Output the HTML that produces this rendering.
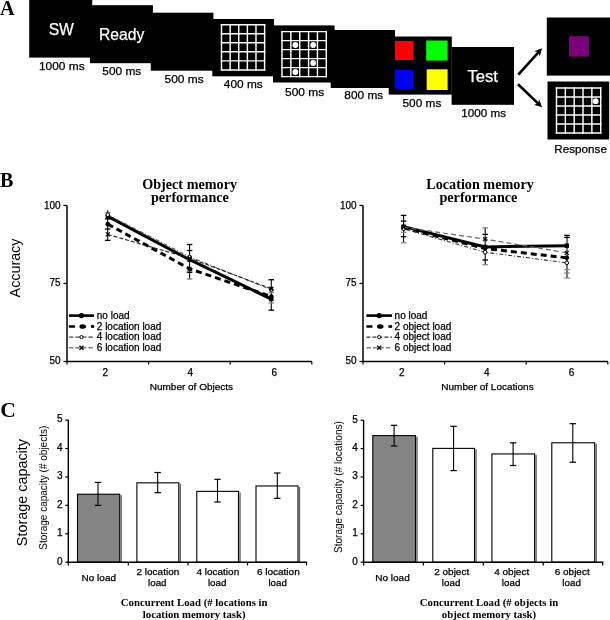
<!DOCTYPE html>
<html><head><meta charset="utf-8"><title>Figure</title>
<style>
html,body{margin:0;padding:0;background:#fff;}
svg{display:block;}
.S{font-family:"Liberation Sans", Arial, Helvetica, sans-serif;}
.R{font-family:"Liberation Serif", "Times New Roman", serif;}
</style></head><body>
<svg width="610" height="620" viewBox="0 0 610 620">
<rect x="0" y="0" width="610" height="620" fill="#fff"/>
<text class="R" x="0" y="14.6" font-size="20.3" font-weight="bold" fill="#000">A</text>
<rect x="29.2" y="0" width="63.0" height="57.6" fill="#000"/>
<rect x="90" y="5.2" width="62.9" height="58.0" fill="#000"/>
<rect x="150.8" y="12.7" width="62.6" height="58.0" fill="#000"/>
<rect x="212.3" y="19" width="61.7" height="57.3" fill="#000"/>
<rect x="273" y="25.4" width="61.6" height="57.1" fill="#000"/>
<rect x="330.7" y="30" width="64.3" height="58" fill="#000"/>
<rect x="388.7" y="36.5" width="63.1" height="58.1" fill="#000"/>
<rect x="451.6" y="47" width="62.4" height="57.8" fill="#000"/>
<text class="S" x="48.7" y="34.5" font-size="16.2" textLength="25.2" lengthAdjust="spacingAndGlyphs" fill="#fff" stroke="#fff" stroke-width="0.25">SW</text>
<text class="S" x="99.0" y="39.7" font-size="16.4" textLength="45.3" lengthAdjust="spacingAndGlyphs" fill="#fff" stroke="#fff" stroke-width="0.25">Ready</text>
<text class="S" x="467.4" y="81.7" font-size="16.3" textLength="30.6" lengthAdjust="spacingAndGlyphs" fill="#fff" stroke="#fff" stroke-width="0.25">Test</text>
<line x1="221.5" y1="24.7" x2="221.5" y2="69.9" stroke="#fff" stroke-width="1.45" stroke-linecap="square"/>
<line x1="221.5" y1="24.7" x2="264.6" y2="24.7" stroke="#fff" stroke-width="1.45" stroke-linecap="square"/>
<line x1="230.12" y1="24.7" x2="230.12" y2="69.9" stroke="#fff" stroke-width="1.45" stroke-linecap="square"/>
<line x1="221.5" y1="33.74" x2="264.6" y2="33.74" stroke="#fff" stroke-width="1.45" stroke-linecap="square"/>
<line x1="238.74" y1="24.7" x2="238.74" y2="69.9" stroke="#fff" stroke-width="1.45" stroke-linecap="square"/>
<line x1="221.5" y1="42.78" x2="264.6" y2="42.78" stroke="#fff" stroke-width="1.45" stroke-linecap="square"/>
<line x1="247.36" y1="24.7" x2="247.36" y2="69.9" stroke="#fff" stroke-width="1.45" stroke-linecap="square"/>
<line x1="221.5" y1="51.82" x2="264.6" y2="51.82" stroke="#fff" stroke-width="1.45" stroke-linecap="square"/>
<line x1="255.98" y1="24.7" x2="255.98" y2="69.9" stroke="#fff" stroke-width="1.45" stroke-linecap="square"/>
<line x1="221.5" y1="60.86" x2="264.6" y2="60.86" stroke="#fff" stroke-width="1.45" stroke-linecap="square"/>
<line x1="264.6" y1="24.7" x2="264.6" y2="69.9" stroke="#fff" stroke-width="1.45" stroke-linecap="square"/>
<line x1="221.5" y1="69.9" x2="264.6" y2="69.9" stroke="#fff" stroke-width="1.45" stroke-linecap="square"/>
<line x1="282.0" y1="31.6" x2="282.0" y2="76.6" stroke="#fff" stroke-width="1.45" stroke-linecap="square"/>
<line x1="282" y1="31.6" x2="326.3" y2="31.6" stroke="#fff" stroke-width="1.45" stroke-linecap="square"/>
<line x1="290.86" y1="31.6" x2="290.86" y2="76.6" stroke="#fff" stroke-width="1.45" stroke-linecap="square"/>
<line x1="282" y1="40.6" x2="326.3" y2="40.6" stroke="#fff" stroke-width="1.45" stroke-linecap="square"/>
<line x1="299.72" y1="31.6" x2="299.72" y2="76.6" stroke="#fff" stroke-width="1.45" stroke-linecap="square"/>
<line x1="282" y1="49.6" x2="326.3" y2="49.6" stroke="#fff" stroke-width="1.45" stroke-linecap="square"/>
<line x1="308.58" y1="31.6" x2="308.58" y2="76.6" stroke="#fff" stroke-width="1.45" stroke-linecap="square"/>
<line x1="282" y1="58.6" x2="326.3" y2="58.6" stroke="#fff" stroke-width="1.45" stroke-linecap="square"/>
<line x1="317.44" y1="31.6" x2="317.44" y2="76.6" stroke="#fff" stroke-width="1.45" stroke-linecap="square"/>
<line x1="282" y1="67.6" x2="326.3" y2="67.6" stroke="#fff" stroke-width="1.45" stroke-linecap="square"/>
<line x1="326.3" y1="31.6" x2="326.3" y2="76.6" stroke="#fff" stroke-width="1.45" stroke-linecap="square"/>
<line x1="282" y1="76.6" x2="326.3" y2="76.6" stroke="#fff" stroke-width="1.45" stroke-linecap="square"/>
<circle cx="295.35" cy="45.00" r="2.9" fill="#fff"/>
<circle cx="313.15" cy="45.00" r="2.9" fill="#fff"/>
<circle cx="313.15" cy="63.00" r="2.9" fill="#fff"/>
<circle cx="295.35" cy="72.00" r="2.9" fill="#fff"/>
<rect x="394.8" y="40.9" width="18.6" height="19.1" fill="#ff0000"/>
<rect x="426.2" y="40.5" width="21.4" height="20.1" fill="#00ff00"/>
<rect x="394.8" y="69.9" width="18.6" height="18.9" fill="#0000ff"/>
<rect x="426.7" y="69.3" width="20.9" height="20.7" fill="#ffff00"/>
<text class="S" x="39.0" y="70.0" font-size="11" textLength="45.6" lengthAdjust="spacingAndGlyphs" fill="#000" stroke="#000" stroke-width="0.25">1000 ms</text>
<text class="S" x="102.3" y="74.7" font-size="11" textLength="38.9" lengthAdjust="spacingAndGlyphs" fill="#000" stroke="#000" stroke-width="0.25">500 ms</text>
<text class="S" x="164.5" y="83.3" font-size="11" textLength="39.2" lengthAdjust="spacingAndGlyphs" fill="#000" stroke="#000" stroke-width="0.25">500 ms</text>
<text class="S" x="223.8" y="88.1" font-size="11" textLength="38.9" lengthAdjust="spacingAndGlyphs" fill="#000" stroke="#000" stroke-width="0.25">400 ms</text>
<text class="S" x="285.0" y="95.5" font-size="11" textLength="39.2" lengthAdjust="spacingAndGlyphs" fill="#000" stroke="#000" stroke-width="0.25">500 ms</text>
<text class="S" x="344.3" y="99.0" font-size="11" textLength="38.9" lengthAdjust="spacingAndGlyphs" fill="#000" stroke="#000" stroke-width="0.25">800 ms</text>
<text class="S" x="402.5" y="106.6" font-size="11" textLength="38.8" lengthAdjust="spacingAndGlyphs" fill="#000" stroke="#000" stroke-width="0.25">500 ms</text>
<text class="S" x="461.3" y="116.7" font-size="11" textLength="44.7" lengthAdjust="spacingAndGlyphs" fill="#000" stroke="#000" stroke-width="0.25">1000 ms</text>
<line x1="518.3" y1="74.6" x2="539.99" y2="50.53" stroke="#000" stroke-width="2.6"/>
<polygon points="542.0,48.3 539.8,56.4 538.5,52.2 534.2,51.3" fill="#000"/>
<line x1="518.0" y1="84.2" x2="539.83" y2="105.12" stroke="#000" stroke-width="2.6"/>
<polygon points="542.0,107.2 534.0,104.8 538.2,103.6 539.2,99.3" fill="#000"/>
<rect x="546.8" y="17.5" width="63.2" height="58.1" fill="#000"/>
<rect x="569" y="36.2" width="19.8" height="20.4" fill="#7a0079"/>
<circle cx="579.5" cy="49.5" r="0.6" fill="#ff0000"/>
<circle cx="583.5" cy="49.5" r="0.6" fill="#ff0000"/>
<circle cx="576.5" cy="53.5" r="0.6" fill="#ff0000"/>
<rect x="547.5" y="81.5" width="61.7" height="58" fill="#000"/>
<line x1="556.5" y1="88" x2="556.5" y2="133" stroke="#fff" stroke-width="1.45" stroke-linecap="square"/>
<line x1="556.5" y1="88.0" x2="600.7" y2="88.0" stroke="#fff" stroke-width="1.45" stroke-linecap="square"/>
<line x1="565.34" y1="88" x2="565.34" y2="133" stroke="#fff" stroke-width="1.45" stroke-linecap="square"/>
<line x1="556.5" y1="97.0" x2="600.7" y2="97.0" stroke="#fff" stroke-width="1.45" stroke-linecap="square"/>
<line x1="574.18" y1="88" x2="574.18" y2="133" stroke="#fff" stroke-width="1.45" stroke-linecap="square"/>
<line x1="556.5" y1="106.0" x2="600.7" y2="106.0" stroke="#fff" stroke-width="1.45" stroke-linecap="square"/>
<line x1="583.02" y1="88" x2="583.02" y2="133" stroke="#fff" stroke-width="1.45" stroke-linecap="square"/>
<line x1="556.5" y1="115.0" x2="600.7" y2="115.0" stroke="#fff" stroke-width="1.45" stroke-linecap="square"/>
<line x1="591.86" y1="88" x2="591.86" y2="133" stroke="#fff" stroke-width="1.45" stroke-linecap="square"/>
<line x1="556.5" y1="124.0" x2="600.7" y2="124.0" stroke="#fff" stroke-width="1.45" stroke-linecap="square"/>
<line x1="600.7" y1="88" x2="600.7" y2="133" stroke="#fff" stroke-width="1.45" stroke-linecap="square"/>
<line x1="556.5" y1="133.0" x2="600.7" y2="133.0" stroke="#fff" stroke-width="1.45" stroke-linecap="square"/>
<circle cx="595.68" cy="101.20" r="2.9" fill="#fff"/>
<text class="S" x="554.3" y="152.7" font-size="11" textLength="52.6" lengthAdjust="spacingAndGlyphs" fill="#000" stroke="#000" stroke-width="0.25">Response</text>
<text class="R" x="0" y="186.8" font-size="20" font-weight="bold" fill="#000">B</text>
<text class="R" x="189.6" y="188.5" font-size="14.2" font-weight="bold" text-anchor="middle" fill="#000">Object memory</text>
<text class="R" x="189.9" y="201.8" font-size="14.2" font-weight="bold" text-anchor="middle" fill="#000">performance</text>
<line x1="67" y1="205.4" x2="67" y2="362.2" stroke="#000" stroke-width="1.5"/>
<line x1="66.3" y1="361.5" x2="311.79999999999995" y2="361.5" stroke="#000" stroke-width="1.5"/>
<line x1="63.4" y1="205.4" x2="67" y2="205.4" stroke="#000" stroke-width="1.2"/>
<line x1="63.4" y1="283.45" x2="67" y2="283.45" stroke="#000" stroke-width="1.2"/>
<line x1="63.4" y1="361.5" x2="67" y2="361.5" stroke="#000" stroke-width="1.2"/>
<line x1="67.0" y1="361.5" x2="67.0" y2="364.6" stroke="#000" stroke-width="1.2"/>
<line x1="148.6" y1="361.5" x2="148.6" y2="364.6" stroke="#000" stroke-width="1.2"/>
<line x1="230.2" y1="361.5" x2="230.2" y2="364.6" stroke="#000" stroke-width="1.2"/>
<line x1="311.8" y1="361.5" x2="311.8" y2="364.6" stroke="#000" stroke-width="1.2"/>
<text class="S" x="60.7" y="208.5" font-size="10" text-anchor="end" fill="#000" stroke="#000" stroke-width="0.25">100</text>
<text class="S" x="60.7" y="286.0" font-size="10" text-anchor="end" fill="#000" stroke="#000" stroke-width="0.25">75</text>
<text class="S" x="60.7" y="364.1" font-size="10" text-anchor="end" fill="#000" stroke="#000" stroke-width="0.25">50</text>
<text class="S" x="105.2" y="376.0" font-size="10" text-anchor="middle" fill="#000" stroke="#000" stroke-width="0.25">2</text>
<text class="S" x="190.2" y="376.0" font-size="10" text-anchor="middle" fill="#000" stroke="#000" stroke-width="0.25">4</text>
<text class="S" x="274.3" y="376.0" font-size="10" text-anchor="middle" fill="#000" stroke="#000" stroke-width="0.25">6</text>
<text class="S" x="149.8" y="390.4" font-size="9.8" textLength="83.2" lengthAdjust="spacingAndGlyphs" fill="#000" stroke="#000" stroke-width="0.25">Number of Objects</text>
<line x1="107.7" y1="210.2" x2="107.7" y2="240.4" stroke="#000" stroke-width="1.1"/>
<line x1="104.9" y1="212.7" x2="110.5" y2="212.7" stroke="#888" stroke-width="1.3"/>
<line x1="104.9" y1="218.9" x2="110.5" y2="218.9" stroke="#000" stroke-width="1.3"/>
<line x1="104.9" y1="229" x2="110.5" y2="229" stroke="#000" stroke-width="1.3"/>
<line x1="104.9" y1="240.4" x2="110.5" y2="240.4" stroke="#000" stroke-width="1.3"/>
<line x1="189.6" y1="244.5" x2="189.6" y2="279.1" stroke="#000" stroke-width="1.1"/>
<line x1="186.79999999999998" y1="244.5" x2="192.4" y2="244.5" stroke="#000" stroke-width="1.3"/>
<line x1="186.79999999999998" y1="250.5" x2="192.4" y2="250.5" stroke="#000" stroke-width="1.3"/>
<line x1="186.79999999999998" y1="270.9" x2="192.4" y2="270.9" stroke="#888" stroke-width="1.3"/>
<line x1="186.79999999999998" y1="272.3" x2="192.4" y2="272.3" stroke="#000" stroke-width="1.3"/>
<line x1="186.79999999999998" y1="279.1" x2="192.4" y2="279.1" stroke="#888" stroke-width="1.3"/>
<line x1="271.3" y1="279.7" x2="271.3" y2="310.2" stroke="#000" stroke-width="1.1"/>
<line x1="268.5" y1="279.7" x2="274.1" y2="279.7" stroke="#000" stroke-width="1.3"/>
<line x1="268.5" y1="292.5" x2="274.1" y2="292.5" stroke="#888" stroke-width="1.3"/>
<line x1="268.5" y1="303" x2="274.1" y2="303" stroke="#888" stroke-width="1.3"/>
<line x1="268.5" y1="310.2" x2="274.1" y2="310.2" stroke="#000" stroke-width="1.3"/>
<polyline points="107.8,216.33 189.6,259.72 271.3,299.06" fill="none" stroke="#000" stroke-width="3" stroke-dasharray="none" stroke-linejoin="round"/>
<rect x="105.6" y="214.13" width="4.4" height="4.4" fill="#000"/>
<rect x="187.4" y="257.52" width="4.4" height="4.4" fill="#000"/>
<rect x="269.1" y="296.86" width="4.4" height="4.4" fill="#000"/>
<polyline points="107.8,224.13 189.6,268.78 271.3,296.56" fill="none" stroke="#000" stroke-width="3" stroke-dasharray="6,4" stroke-linejoin="round"/>
<circle cx="107.8" cy="224.13" r="2.3" fill="#000"/>
<circle cx="189.6" cy="268.78" r="2.3" fill="#000"/>
<circle cx="271.3" cy="296.56" r="2.3" fill="#000"/>
<polyline points="107.8,214.77 189.6,256.91 271.3,289.69" fill="none" stroke="#555" stroke-width="1.1" stroke-dasharray="4,2,1,2" stroke-linejoin="round"/>
<circle cx="107.8" cy="214.77" r="1.8" fill="#fff" stroke="#000" stroke-width="1"/>
<circle cx="189.6" cy="256.91" r="1.8" fill="#fff" stroke="#000" stroke-width="1"/>
<circle cx="271.3" cy="289.69" r="1.8" fill="#fff" stroke="#000" stroke-width="1"/>
<polyline points="107.8,234.43 189.6,258.16 271.3,288.76" fill="none" stroke="#222" stroke-width="1.1" stroke-dasharray="4,2" stroke-linejoin="round"/>
<path d="M105.8,232.43L109.8,236.43M105.8,236.43L109.8,232.43" stroke="#000" stroke-width="1.2" fill="none"/>
<path d="M187.6,256.16L191.6,260.16M187.6,260.16L191.6,256.16" stroke="#000" stroke-width="1.2" fill="none"/>
<path d="M269.3,286.76L273.3,290.76M269.3,290.76L273.3,286.76" stroke="#000" stroke-width="1.2" fill="none"/>
<line x1="68.9" y1="315.6" x2="94" y2="315.6" stroke="#000" stroke-width="2.6" stroke-dasharray="none"/>
<circle cx="81.5" cy="315.6" r="2.7" fill="#000"/>
<text class="S" x="96.8" y="318.8" font-size="10" fill="#000" stroke="#000" stroke-width="0.25">no load</text>
<line x1="68.9" y1="326.5" x2="94" y2="326.5" stroke="#000" stroke-width="2.6" stroke-dasharray="6,5"/>
<ellipse cx="82.5" cy="326.5" rx="3" ry="2.3" fill="#000"/>
<circle cx="93" cy="326.5" r="1.2" fill="#000"/>
<text class="S" x="96.8" y="329.7" font-size="10" fill="#000" stroke="#000" stroke-width="0.25">2 location load</text>
<line x1="68.9" y1="337.1" x2="94" y2="337.1" stroke="#808080" stroke-width="1.6" stroke-dasharray="4.5,2"/>
<circle cx="81.5" cy="337.1" r="1.6" fill="#fff" stroke="#000" stroke-width="1"/>
<text class="S" x="96.8" y="340.3" font-size="10" fill="#000" stroke="#000" stroke-width="0.25">4 location load</text>
<line x1="68.9" y1="347.8" x2="94" y2="347.8" stroke="#808080" stroke-width="1.6" stroke-dasharray="4.5,2"/>
<path d="M79.5,345.8L83.5,349.8M79.5,349.8L83.5,345.8" stroke="#000" stroke-width="1.3" fill="none"/>
<text class="S" x="96.8" y="351.0" font-size="10" fill="#000" stroke="#000" stroke-width="0.25">6 location load</text>
<text class="R" x="480.0" y="188.5" font-size="14.2" font-weight="bold" text-anchor="middle" fill="#000">Location memory</text>
<text class="R" x="478.4" y="201.8" font-size="14.2" font-weight="bold" text-anchor="middle" fill="#000">performance</text>
<line x1="363" y1="205.4" x2="363" y2="362.2" stroke="#000" stroke-width="1.5"/>
<line x1="362.3" y1="361.5" x2="607.8" y2="361.5" stroke="#000" stroke-width="1.5"/>
<line x1="359.4" y1="205.4" x2="363" y2="205.4" stroke="#000" stroke-width="1.2"/>
<line x1="359.4" y1="283.45" x2="363" y2="283.45" stroke="#000" stroke-width="1.2"/>
<line x1="359.4" y1="361.5" x2="363" y2="361.5" stroke="#000" stroke-width="1.2"/>
<line x1="363.0" y1="361.5" x2="363.0" y2="364.6" stroke="#000" stroke-width="1.2"/>
<line x1="444.6" y1="361.5" x2="444.6" y2="364.6" stroke="#000" stroke-width="1.2"/>
<line x1="526.2" y1="361.5" x2="526.2" y2="364.6" stroke="#000" stroke-width="1.2"/>
<line x1="607.8" y1="361.5" x2="607.8" y2="364.6" stroke="#000" stroke-width="1.2"/>
<text class="S" x="356.7" y="208.5" font-size="10" text-anchor="end" fill="#000" stroke="#000" stroke-width="0.25">100</text>
<text class="S" x="356.7" y="286.0" font-size="10" text-anchor="end" fill="#000" stroke="#000" stroke-width="0.25">75</text>
<text class="S" x="356.7" y="364.1" font-size="10" text-anchor="end" fill="#000" stroke="#000" stroke-width="0.25">50</text>
<text class="S" x="401.9" y="376.0" font-size="10" text-anchor="middle" fill="#000" stroke="#000" stroke-width="0.25">2</text>
<text class="S" x="486.7" y="376.0" font-size="10" text-anchor="middle" fill="#000" stroke="#000" stroke-width="0.25">4</text>
<text class="S" x="571.6" y="376.0" font-size="10" text-anchor="middle" fill="#000" stroke="#000" stroke-width="0.25">6</text>
<text class="S" x="441.3" y="390.4" font-size="9.8" textLength="92.4" lengthAdjust="spacingAndGlyphs" fill="#000" stroke="#000" stroke-width="0.25">Number of Locations</text>
<line x1="403.6" y1="215.4" x2="403.6" y2="242.8" stroke="#000" stroke-width="1.1"/>
<line x1="400.8" y1="215.4" x2="406.40000000000003" y2="215.4" stroke="#000" stroke-width="1.3"/>
<line x1="400.8" y1="221.1" x2="406.40000000000003" y2="221.1" stroke="#000" stroke-width="1.3"/>
<line x1="400.8" y1="232.3" x2="406.40000000000003" y2="232.3" stroke="#888" stroke-width="1.3"/>
<line x1="400.8" y1="236.7" x2="406.40000000000003" y2="236.7" stroke="#000" stroke-width="1.3"/>
<line x1="400.8" y1="242.8" x2="406.40000000000003" y2="242.8" stroke="#888" stroke-width="1.3"/>
<line x1="485.2" y1="227.8" x2="485.2" y2="264.7" stroke="#000" stroke-width="1.1"/>
<line x1="482.4" y1="227.8" x2="488.0" y2="227.8" stroke="#888" stroke-width="1.3"/>
<line x1="482.4" y1="234.4" x2="488.0" y2="234.4" stroke="#000" stroke-width="1.3"/>
<line x1="482.4" y1="260" x2="488.0" y2="260" stroke="#000" stroke-width="1.3"/>
<line x1="482.4" y1="264.7" x2="488.0" y2="264.7" stroke="#888" stroke-width="1.3"/>
<line x1="567.0" y1="235.3" x2="567.0" y2="278" stroke="#000" stroke-width="1.1"/>
<line x1="564.2" y1="235.3" x2="569.8" y2="235.3" stroke="#000" stroke-width="1.3"/>
<line x1="564.2" y1="237.4" x2="569.8" y2="237.4" stroke="#000" stroke-width="1.3"/>
<line x1="564.2" y1="269.7" x2="569.8" y2="269.7" stroke="#888" stroke-width="1.3"/>
<line x1="564.2" y1="273" x2="569.8" y2="273" stroke="#888" stroke-width="1.3"/>
<line x1="564.2" y1="278" x2="569.8" y2="278" stroke="#888" stroke-width="1.3"/>
<polyline points="403.6,226.63 485.1,246.92 566.8,245.67" fill="none" stroke="#000" stroke-width="3" stroke-dasharray="none" stroke-linejoin="round"/>
<rect x="401.4" y="224.43" width="4.4" height="4.4" fill="#000"/>
<rect x="482.9" y="244.72" width="4.4" height="4.4" fill="#000"/>
<rect x="564.6" y="243.47" width="4.4" height="4.4" fill="#000"/>
<polyline points="403.6,227.88 485.1,248.48 566.8,257.85" fill="none" stroke="#000" stroke-width="3" stroke-dasharray="6,4" stroke-linejoin="round"/>
<circle cx="403.6" cy="227.88" r="2.3" fill="#000"/>
<circle cx="485.1" cy="248.48" r="2.3" fill="#000"/>
<circle cx="566.8" cy="257.85" r="2.3" fill="#000"/>
<polyline points="403.6,228.81 485.1,252.23 566.8,262.84" fill="none" stroke="#333" stroke-width="1.1" stroke-dasharray="4,2,1,2" stroke-linejoin="round"/>
<circle cx="403.6" cy="228.81" r="1.8" fill="#fff" stroke="#000" stroke-width="1"/>
<circle cx="485.1" cy="252.23" r="1.8" fill="#fff" stroke="#000" stroke-width="1"/>
<circle cx="566.8" cy="262.84" r="1.8" fill="#fff" stroke="#000" stroke-width="1"/>
<polyline points="403.6,227.25 485.1,239.12 566.8,252.85" fill="none" stroke="#666" stroke-width="1.2" stroke-dasharray="5,3" stroke-linejoin="round"/>
<path d="M401.6,225.25L405.6,229.25M401.6,229.25L405.6,225.25" stroke="#000" stroke-width="1.2" fill="none"/>
<path d="M483.1,237.12L487.1,241.12M483.1,241.12L487.1,237.12" stroke="#000" stroke-width="1.2" fill="none"/>
<path d="M564.8,250.85L568.8,254.85M564.8,254.85L568.8,250.85" stroke="#000" stroke-width="1.2" fill="none"/>
<line x1="366.4" y1="315.6" x2="392" y2="315.6" stroke="#000" stroke-width="2.6" stroke-dasharray="none"/>
<circle cx="379.2" cy="315.6" r="2.7" fill="#000"/>
<text class="S" x="394.6" y="318.8" font-size="10" fill="#000" stroke="#000" stroke-width="0.25">no load</text>
<line x1="366.4" y1="326.5" x2="392" y2="326.5" stroke="#000" stroke-width="2.6" stroke-dasharray="6,5"/>
<ellipse cx="380.2" cy="326.5" rx="3" ry="2.3" fill="#000"/>
<circle cx="391" cy="326.5" r="1.2" fill="#000"/>
<text class="S" x="394.6" y="329.7" font-size="10" fill="#000" stroke="#000" stroke-width="0.25">2 object load</text>
<line x1="366.4" y1="337.1" x2="392" y2="337.1" stroke="#333" stroke-width="1.1" stroke-dasharray="4,2"/>
<circle cx="379.2" cy="337.1" r="1.6" fill="#fff" stroke="#000" stroke-width="1"/>
<text class="S" x="394.6" y="340.3" font-size="10" fill="#000" stroke="#000" stroke-width="0.25">4 object load</text>
<line x1="366.4" y1="347.8" x2="392" y2="347.8" stroke="#808080" stroke-width="1.6" stroke-dasharray="4.5,2"/>
<path d="M377.2,345.8L381.2,349.8M377.2,349.8L381.2,345.8" stroke="#000" stroke-width="1.3" fill="none"/>
<text class="S" x="394.6" y="351.0" font-size="10" fill="#000" stroke="#000" stroke-width="0.25">6 object load</text>
<text class="S" x="0" y="0" font-size="14.3" transform="translate(20.2,268) rotate(-90)" text-anchor="middle">Accuracy</text>
<text class="R" x="0.2" y="416.7" font-size="21.6" font-weight="bold" fill="#000">C</text>
<line x1="68.3" y1="420.1" x2="68.3" y2="562.8000000000001" stroke="#000" stroke-width="1.4"/>
<rect x="120.5" y="495.21" width="1.4" height="66.99" fill="#666"/>
<rect x="77.5" y="494.21" width="42.2" height="67.99" fill="#858585" stroke="#000" stroke-width="1.1"/>
<rect x="179.6" y="483.84" width="1.4" height="78.36" fill="#666"/>
<rect x="136.9" y="482.84" width="41.9" height="79.36" fill="#fff" stroke="#000" stroke-width="1.1"/>
<rect x="239.3" y="492.37" width="1.4" height="69.83" fill="#666"/>
<rect x="196.8" y="491.37" width="41.7" height="70.83" fill="#fff" stroke="#000" stroke-width="1.1"/>
<rect x="298.8" y="486.97" width="1.4" height="75.23" fill="#666"/>
<rect x="256.0" y="485.97" width="42.0" height="76.23" fill="#fff" stroke="#000" stroke-width="1.1"/>
<line x1="67.6" y1="562.2" x2="307.1" y2="562.2" stroke="#000" stroke-width="1.4"/>
<line x1="68.3" y1="562.2" x2="68.3" y2="565.4000000000001" stroke="#000" stroke-width="1.2"/>
<line x1="128.3" y1="562.2" x2="128.3" y2="565.4000000000001" stroke="#000" stroke-width="1.2"/>
<line x1="188" y1="562.2" x2="188" y2="565.4000000000001" stroke="#000" stroke-width="1.2"/>
<line x1="247.5" y1="562.2" x2="247.5" y2="565.4000000000001" stroke="#000" stroke-width="1.2"/>
<line x1="306.5" y1="562.2" x2="306.5" y2="565.4000000000001" stroke="#000" stroke-width="1.2"/>
<line x1="65.3" y1="562.2" x2="68.3" y2="562.2" stroke="#000" stroke-width="1.2"/>
<text class="S" x="62.5" y="564.5" font-size="10" text-anchor="end" fill="#000" stroke="#000" stroke-width="0.25">0</text>
<line x1="65.3" y1="533.78" x2="68.3" y2="533.78" stroke="#000" stroke-width="1.2"/>
<text class="S" x="62.5" y="536.08" font-size="10" text-anchor="end" fill="#000" stroke="#000" stroke-width="0.25">1</text>
<line x1="65.3" y1="505.36" x2="68.3" y2="505.36" stroke="#000" stroke-width="1.2"/>
<text class="S" x="62.5" y="507.66" font-size="10" text-anchor="end" fill="#000" stroke="#000" stroke-width="0.25">2</text>
<line x1="65.3" y1="476.94" x2="68.3" y2="476.94" stroke="#000" stroke-width="1.2"/>
<text class="S" x="62.5" y="479.24" font-size="10" text-anchor="end" fill="#000" stroke="#000" stroke-width="0.25">3</text>
<line x1="65.3" y1="448.52" x2="68.3" y2="448.52" stroke="#000" stroke-width="1.2"/>
<text class="S" x="62.5" y="450.82" font-size="10" text-anchor="end" fill="#000" stroke="#000" stroke-width="0.25">4</text>
<line x1="65.3" y1="420.1" x2="68.3" y2="420.1" stroke="#000" stroke-width="1.2"/>
<text class="S" x="62.5" y="422.4" font-size="10" text-anchor="end" fill="#000" stroke="#000" stroke-width="0.25">5</text>
<line x1="98" y1="482.4" x2="98" y2="505.4" stroke="#000" stroke-width="1.1"/>
<line x1="94.8" y1="482.4" x2="101.2" y2="482.4" stroke="#000" stroke-width="1.2"/>
<line x1="94.8" y1="505.4" x2="101.2" y2="505.4" stroke="#000" stroke-width="1.2"/>
<line x1="157.7" y1="472.5" x2="157.7" y2="492.7" stroke="#000" stroke-width="1.1"/>
<line x1="154.5" y1="472.5" x2="160.89999999999998" y2="472.5" stroke="#000" stroke-width="1.2"/>
<line x1="154.5" y1="492.7" x2="160.89999999999998" y2="492.7" stroke="#000" stroke-width="1.2"/>
<line x1="217.5" y1="479.3" x2="217.5" y2="502" stroke="#000" stroke-width="1.1"/>
<line x1="214.3" y1="479.3" x2="220.7" y2="479.3" stroke="#000" stroke-width="1.2"/>
<line x1="214.3" y1="502" x2="220.7" y2="502" stroke="#000" stroke-width="1.2"/>
<line x1="277.3" y1="473" x2="277.3" y2="498.3" stroke="#000" stroke-width="1.1"/>
<line x1="274.1" y1="473" x2="280.5" y2="473" stroke="#000" stroke-width="1.2"/>
<line x1="274.1" y1="498.3" x2="280.5" y2="498.3" stroke="#000" stroke-width="1.2"/>
<text class="S" x="98.8" y="581.0" font-size="9.4" text-anchor="middle" textLength="34.47" lengthAdjust="spacingAndGlyphs" fill="#000" stroke="#000" stroke-width="0.25">No load</text>
<text class="S" x="157.9" y="575.2" font-size="9.4" text-anchor="middle" textLength="42.81" lengthAdjust="spacingAndGlyphs" fill="#000" stroke="#000" stroke-width="0.25">2 location</text>
<text class="S" x="157.3" y="586.2" font-size="9.4" text-anchor="middle" textLength="18.51" lengthAdjust="spacingAndGlyphs" fill="#000" stroke="#000" stroke-width="0.25">load</text>
<text class="S" x="217.8" y="575.2" font-size="9.4" text-anchor="middle" textLength="42.81" lengthAdjust="spacingAndGlyphs" fill="#000" stroke="#000" stroke-width="0.25">4 location</text>
<text class="S" x="217.20000000000002" y="586.2" font-size="9.4" text-anchor="middle" textLength="18.51" lengthAdjust="spacingAndGlyphs" fill="#000" stroke="#000" stroke-width="0.25">load</text>
<text class="S" x="278.3" y="575.2" font-size="9.4" text-anchor="middle" textLength="42.81" lengthAdjust="spacingAndGlyphs" fill="#000" stroke="#000" stroke-width="0.25">6 location</text>
<text class="S" x="277.7" y="586.2" font-size="9.4" text-anchor="middle" textLength="18.51" lengthAdjust="spacingAndGlyphs" fill="#000" stroke="#000" stroke-width="0.25">load</text>
<text class="R" x="194.2" y="605.5" font-size="10.75" font-weight="bold" text-anchor="middle" fill="#000">Concurrent Load (# locations in</text>
<text class="R" x="194.2" y="617.5" font-size="10.75" font-weight="bold" text-anchor="middle" fill="#000">location memory task)</text>
<text class="S" x="0" y="0" font-size="10" transform="translate(46.8,487.7) rotate(-90)" text-anchor="middle">Storage capacity (# objects)</text>
<line x1="363.6" y1="420.20000000000005" x2="363.6" y2="562.8000000000001" stroke="#000" stroke-width="1.4"/>
<rect x="416.3" y="436.61" width="1.4" height="125.59" fill="#666"/>
<rect x="372.8" y="435.61" width="42.7" height="126.59" fill="#858585" stroke="#000" stroke-width="1.1"/>
<rect x="475.3" y="449.39" width="1.4" height="112.81" fill="#666"/>
<rect x="432.8" y="448.39" width="41.7" height="113.81" fill="#fff" stroke="#000" stroke-width="1.1"/>
<rect x="535.4" y="454.93" width="1.4" height="107.27" fill="#666"/>
<rect x="491.9" y="453.93" width="42.7" height="108.27" fill="#fff" stroke="#000" stroke-width="1.1"/>
<rect x="595.5" y="443.8" width="1.4" height="118.4" fill="#666"/>
<rect x="551.8" y="442.8" width="42.9" height="119.4" fill="#fff" stroke="#000" stroke-width="1.1"/>
<line x1="362.90000000000003" y1="562.2" x2="603.3000000000001" y2="562.2" stroke="#000" stroke-width="1.4"/>
<line x1="363.6" y1="562.2" x2="363.6" y2="565.4000000000001" stroke="#000" stroke-width="1.2"/>
<line x1="423.3" y1="562.2" x2="423.3" y2="565.4000000000001" stroke="#000" stroke-width="1.2"/>
<line x1="483.3" y1="562.2" x2="483.3" y2="565.4000000000001" stroke="#000" stroke-width="1.2"/>
<line x1="543.2" y1="562.2" x2="543.2" y2="565.4000000000001" stroke="#000" stroke-width="1.2"/>
<line x1="602.7" y1="562.2" x2="602.7" y2="565.4000000000001" stroke="#000" stroke-width="1.2"/>
<line x1="360.6" y1="562.2" x2="363.6" y2="562.2" stroke="#000" stroke-width="1.2"/>
<text class="S" x="357.8" y="564.5" font-size="10" text-anchor="end" fill="#000" stroke="#000" stroke-width="0.25">0</text>
<line x1="360.6" y1="533.8" x2="363.6" y2="533.8" stroke="#000" stroke-width="1.2"/>
<text class="S" x="357.8" y="536.1" font-size="10" text-anchor="end" fill="#000" stroke="#000" stroke-width="0.25">1</text>
<line x1="360.6" y1="505.4" x2="363.6" y2="505.4" stroke="#000" stroke-width="1.2"/>
<text class="S" x="357.8" y="507.7" font-size="10" text-anchor="end" fill="#000" stroke="#000" stroke-width="0.25">2</text>
<line x1="360.6" y1="477.0" x2="363.6" y2="477.0" stroke="#000" stroke-width="1.2"/>
<text class="S" x="357.8" y="479.3" font-size="10" text-anchor="end" fill="#000" stroke="#000" stroke-width="0.25">3</text>
<line x1="360.6" y1="448.6" x2="363.6" y2="448.6" stroke="#000" stroke-width="1.2"/>
<text class="S" x="357.8" y="450.9" font-size="10" text-anchor="end" fill="#000" stroke="#000" stroke-width="0.25">4</text>
<line x1="360.6" y1="420.2" x2="363.6" y2="420.2" stroke="#000" stroke-width="1.2"/>
<text class="S" x="357.8" y="422.5" font-size="10" text-anchor="end" fill="#000" stroke="#000" stroke-width="0.25">5</text>
<line x1="394.1" y1="425.3" x2="394.1" y2="446" stroke="#000" stroke-width="1.1"/>
<line x1="390.90000000000003" y1="425.3" x2="397.3" y2="425.3" stroke="#000" stroke-width="1.2"/>
<line x1="390.90000000000003" y1="446" x2="397.3" y2="446" stroke="#000" stroke-width="1.2"/>
<line x1="453.6" y1="426.3" x2="453.6" y2="470.6" stroke="#000" stroke-width="1.1"/>
<line x1="450.40000000000003" y1="426.3" x2="456.8" y2="426.3" stroke="#000" stroke-width="1.2"/>
<line x1="450.40000000000003" y1="470.6" x2="456.8" y2="470.6" stroke="#000" stroke-width="1.2"/>
<line x1="513.1" y1="442.8" x2="513.1" y2="465.5" stroke="#000" stroke-width="1.1"/>
<line x1="509.90000000000003" y1="442.8" x2="516.3000000000001" y2="442.8" stroke="#000" stroke-width="1.2"/>
<line x1="509.90000000000003" y1="465.5" x2="516.3000000000001" y2="465.5" stroke="#000" stroke-width="1.2"/>
<line x1="572.8" y1="423.7" x2="572.8" y2="462.2" stroke="#000" stroke-width="1.1"/>
<line x1="569.5999999999999" y1="423.7" x2="576.0" y2="423.7" stroke="#000" stroke-width="1.2"/>
<line x1="569.5999999999999" y1="462.2" x2="576.0" y2="462.2" stroke="#000" stroke-width="1.2"/>
<text class="S" x="392.5" y="581.0" font-size="9.4" text-anchor="middle" textLength="34.47" lengthAdjust="spacingAndGlyphs" fill="#000" stroke="#000" stroke-width="0.25">No load</text>
<text class="S" x="451.7" y="575.2" font-size="9.4" text-anchor="middle" textLength="35.03" lengthAdjust="spacingAndGlyphs" fill="#000" stroke="#000" stroke-width="0.25">2 object</text>
<text class="S" x="451.09999999999997" y="586.2" font-size="9.4" text-anchor="middle" textLength="18.51" lengthAdjust="spacingAndGlyphs" fill="#000" stroke="#000" stroke-width="0.25">load</text>
<text class="S" x="511.7" y="575.2" font-size="9.4" text-anchor="middle" textLength="35.03" lengthAdjust="spacingAndGlyphs" fill="#000" stroke="#000" stroke-width="0.25">4 object</text>
<text class="S" x="511.09999999999997" y="586.2" font-size="9.4" text-anchor="middle" textLength="18.51" lengthAdjust="spacingAndGlyphs" fill="#000" stroke="#000" stroke-width="0.25">load</text>
<text class="S" x="572.2" y="575.2" font-size="9.4" text-anchor="middle" textLength="35.03" lengthAdjust="spacingAndGlyphs" fill="#000" stroke="#000" stroke-width="0.25">6 object</text>
<text class="S" x="571.6" y="586.2" font-size="9.4" text-anchor="middle" textLength="18.51" lengthAdjust="spacingAndGlyphs" fill="#000" stroke="#000" stroke-width="0.25">load</text>
<text class="R" x="489" y="605.5" font-size="10.75" font-weight="bold" text-anchor="middle" fill="#000">Concurrent Load (# objects in</text>
<text class="R" x="489" y="617.5" font-size="10.75" font-weight="bold" text-anchor="middle" fill="#000">object memory task)</text>
<text class="S" x="0" y="0" font-size="10" transform="translate(342.4,487.1) rotate(-90)" text-anchor="middle">Storage capacity (# locations)</text>
<text class="S" x="0" y="0" font-size="14.4" transform="translate(26.6,492.6) rotate(-90)" text-anchor="middle">Storage capacity</text>
</svg>
</body></html>
